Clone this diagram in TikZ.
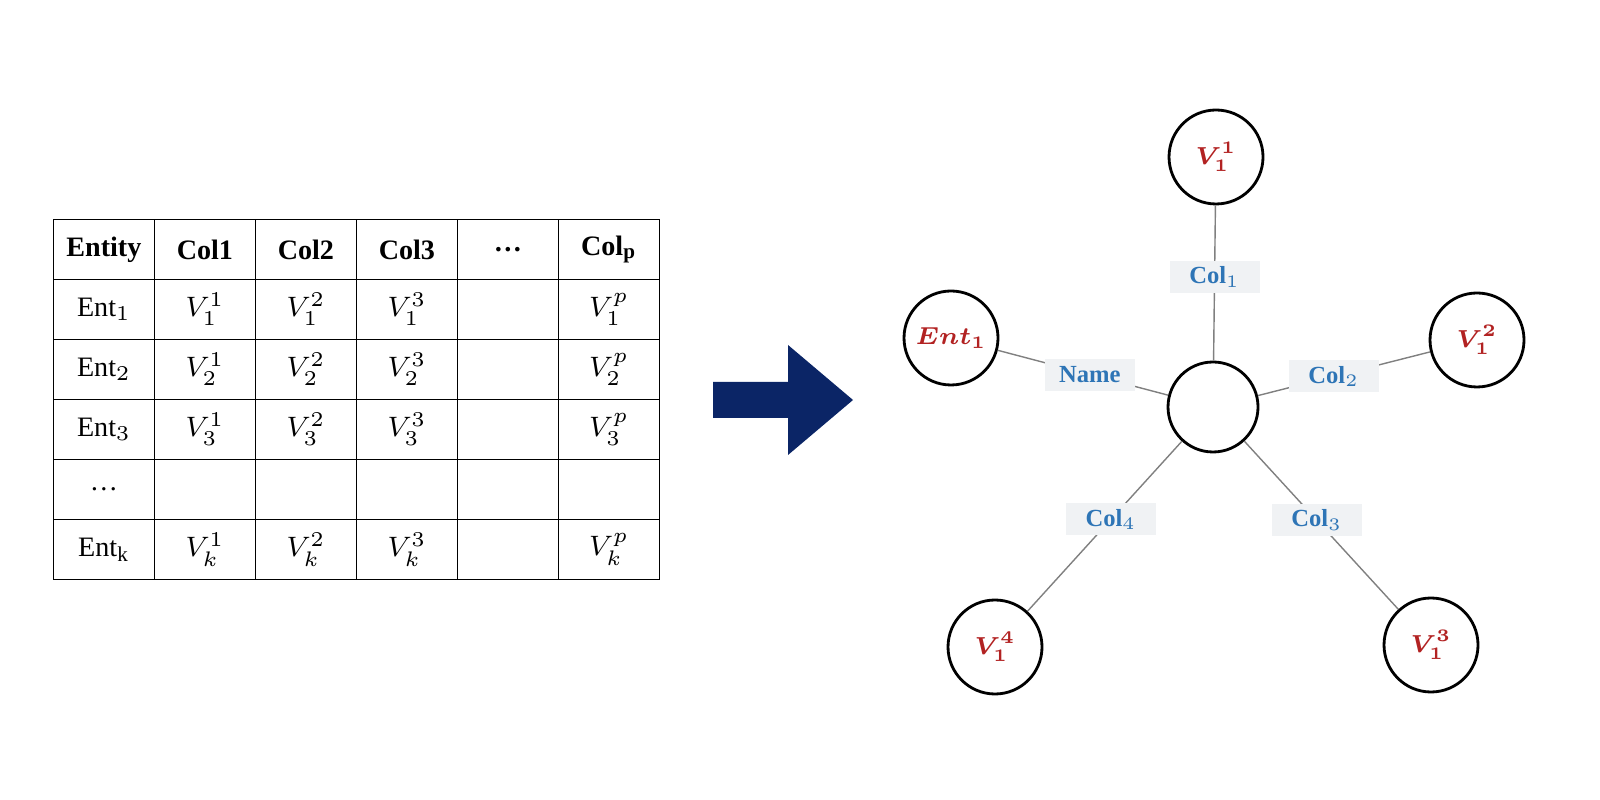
\documentclass[tikz,border=0pt]{standalone}
\usepackage{amsmath}
\usepackage{fontspec}
\setmainfont{Liberation Serif}
\usepackage{xcolor}
\usetikzlibrary{matrix}
\definecolor{navy}{HTML}{0B2566}
\definecolor{valred}{HTML}{B22222}
\definecolor{colblue}{HTML}{2E75B6}
\definecolor{lblgray}{HTML}{F0F2F4}
\tikzset{
  cell/.style={draw, minimum width=1.01cm, minimum height=0.6cm, inner sep=0pt, anchor=center},
  vertex/.style={draw, circle, thick, minimum size=0.94cm, inner sep=0pt, text=valred, font=\fontsize{7.5}{9}\selectfont\bfseries},
  link/.style={draw=gray, thin},
  lbl/.style={fill=lblgray, text=colblue, font=\fontsize{7}{8}\selectfont\bfseries, minimum width=0.9cm, minimum height=0.32cm, inner sep=1pt}
}
\begin{document}
\begin{tikzpicture}
\useasboundingbox (0,0) rectangle (16,8);
% table
\matrix (tab) [matrix of nodes, nodes in empty cells, nodes={cell}, column sep=-0.4pt, row sep=-0.4pt,
  inner sep=0pt, font=\fontsize{8}{10}\selectfont, anchor=north west] at (0.52,5.82) {
  \textbf{Entity} & \textbf{Col1} & \textbf{Col2} & \textbf{Col3} & \textbf{\dots} & \textbf{Col$_\mathbf{p}$} \\
  Ent$_1$ & $V_1^1$ & $V_1^2$ & $V_1^3$ & & $V_1^p$ \\
  Ent$_2$ & $V_2^1$ & $V_2^2$ & $V_2^3$ & & $V_2^p$ \\
  Ent$_3$ & $V_3^1$ & $V_3^2$ & $V_3^3$ & & $V_3^p$ \\
  \dots & & & & & \\
  Ent$_\text{k}$ & $V_k^1$ & $V_k^2$ & $V_k^3$ & & $V_k^p$ \\
};
% big arrow
\fill[navy] (7.13,3.82) -- (7.88,3.82) -- (7.88,3.45) -- (8.53,4) -- (7.88,4.55) -- (7.88,4.18) -- (7.13,4.18) -- cycle;
% graph
\node (hub) [vertex, minimum size=0.9cm] at (12.13,3.93) {};
\node (top) [vertex] at (12.16,6.43) {$\boldsymbol{V_1^1}$};
\node (ent) [vertex] at (9.51,4.62) {$\boldsymbol{Ent_1}$};
\node (rgt) [vertex] at (14.77,4.60) {$\boldsymbol{V_1^2}$};
\node (bl) [vertex] at (9.95,1.53) {$\boldsymbol{V_1^4}$};
\node (br) [vertex] at (14.31,1.55) {$\boldsymbol{V_1^3}$};
\path[link] (hub) -- node[lbl, pos=0.54] {Col$_1$} (top);
\path[link] (hub) -- node[lbl, pos=0.46] {Name} (ent);
\path[link] (hub) -- node[lbl, pos=0.44] {Col$_2$} (rgt);
\path[link] (hub) -- node[lbl, pos=0.46] {Col$_4$} (bl);
\path[link] (hub) -- node[lbl, pos=0.47] {Col$_3$} (br);
\end{tikzpicture}
\end{document}
